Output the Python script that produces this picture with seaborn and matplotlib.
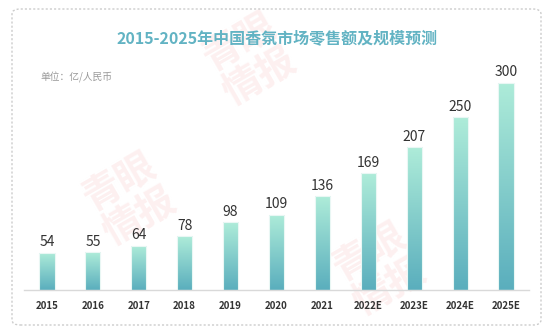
import numpy as np
import pandas as pd
import matplotlib
matplotlib.use("Agg")
import matplotlib.pyplot as plt
import seaborn as sns
from matplotlib.patches import FancyBboxPatch
from matplotlib.colors import LinearSegmentedColormap

years = ["2015", "2016", "2017", "2018", "2019", "2020", "2021", "2022E", "2023E", "2024E", "2025E"]
values = [54, 55, 64, 78, 98, 109, 136, 169, 207, 250, 300]
title = "2015-2025年中国香氛市场零售额及规模预测"
unit = "单位：亿/人民币"

sns.set_theme(style="white")
plt.rcParams['font.family'] = ['Noto Sans CJK SC', 'DejaVu Sans']

W, H = 554, 336
fig = plt.figure(figsize=(W / 100, H / 100), dpi=100)
fig.patch.set_facecolor("white")

ax = fig.add_axes([24 / W, (H - 290) / H, (529 - 24) / W, (290 - 60) / H])
ax.set_zorder(1)
df = pd.DataFrame({"year": years, "value": values})
sns.barplot(data=df, x="year", y="value", ax=ax, width=0.33, color="#7cc9c9",
            edgecolor="#e9f7f4", linewidth=0.8, saturation=1)

cmap = LinearSegmentedColormap.from_list("g", ["#5aaebd", "#aeecd9"])
grad = np.linspace(0, 1, 256).reshape(-1, 1)
for p in list(ax.patches):
    x0, y0 = p.get_x(), p.get_y()
    w, h = p.get_width(), p.get_height()
    im = ax.imshow(grad, cmap=cmap, origin="lower", aspect="auto",
                   extent=[x0, x0 + w, y0, y0 + h], zorder=p.get_zorder() + 0.1)
    im.set_clip_path(p)
    p.set_facecolor("none")
    p.set_zorder(p.get_zorder() + 0.2)
ax.set_xlim(-0.5, len(years) - 0.5)
ax.set_ylim(0, 333)

for i, v in enumerate(values):
    ax.text(i, v + 5, str(v), ha="center", va="bottom", fontsize=10, color="#333333",
            zorder=5)

for s in ["top", "right", "left"]:
    ax.spines[s].set_visible(False)
ax.spines["bottom"].set_color("#d9d9d9")
ax.spines["bottom"].set_linewidth(1.0)
ax.set_yticks([])
ax.set_xlabel("")
ax.set_ylabel("")
ax.tick_params(axis="x", length=0, pad=8, labelsize=7, labelcolor="#333333")
for lab in ax.get_xticklabels():
    lab.set_fontweight("bold")
ax.set_facecolor("none")

# faint watermark behind the chart
for (x, y) in [(130 / W, 1 - 200 / H), (250 / W, 1 - 60 / H), (380 / W, 1 - 270 / H)]:
    fig.text(x, y, "青眼\n情报", fontsize=28, color="#fdf0f0", rotation=30,
             ha="center", va="center", fontweight="bold", zorder=-1, linespacing=1.0)

fig.text(0.5, (H - 38) / H, title, ha="center", va="center", fontsize=11.5,
         fontweight="bold", color="#62b3c3", zorder=3)
fig.text(40 / W, (H - 77) / H, unit, ha="left", va="center", fontsize=7,
         color="#999999", zorder=3)

border = FancyBboxPatch((12 / W, (H - 325) / H), (541 - 12) / W, (325 - 9) / H,
                        boxstyle="round,pad=0,rounding_size=0.015",
                        transform=fig.transFigure, fill=False, edgecolor="#cccccc",
                        linestyle=(0, (1.5, 1.5)), linewidth=1.0)
fig.patches.append(border)

fig.savefig("out.png", dpi=100, facecolor="white")
